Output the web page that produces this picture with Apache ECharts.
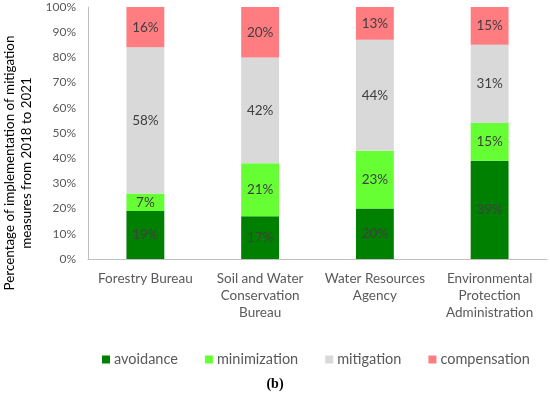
<!DOCTYPE html>
<html>
<head>
<meta charset="utf-8">
<script src="https://cdn.jsdelivr.net/npm/echarts@6/dist/echarts.min.js"></script>
<style>
  html, body { margin: 0; padding: 0; background: #fff; }
  #chart { width: 550px; height: 400px; }
</style>
</head>
<body>
<div id="chart"></div>
<script>
// data
let agencies = ['Forestry Bureau', 'Soil and Water\nConservation\nBureau', 'Water Resources\nAgency', 'Environmental\nProtection\nAdministration'];
let avoidance = [19, 17, 20, 39];
let minimization = [7, 21, 23, 15];
let mitigation = [58, 42, 44, 31];
let compensation = [16, 20, 13, 15];
let seriesNames = ['avoidance', 'minimization', 'mitigation', 'compensation'];
let seriesColors = ['#008000', '#66ff33', '#d9d9d9', '#ff7c80'];

var myChart = echarts.init(document.getElementById('chart'));

function makeSeries(name, data, color) {
    return {
        name: name,
        type: 'bar',
        stack: 'total',
        barWidth: '33%',
        data: data,
        itemStyle: { color: color },
        label: {
            show: true,
            formatter: '{c}%',
            color: '#404040',
            fontSize: 13.5,
            fontFamily: 'Lato'
        }
    };
}

var option = {
    animation: false,
    textStyle: { fontFamily: 'Lato' },
    grid: {
        left: 88,
        right: 3,
        top: 7,
        bottom: 141
    },
    legend: {
        top: 347,
        left: 97,
        itemWidth: 8,
        itemHeight: 8,
        itemGap: 27,
        icon: 'rect',
        textStyle: { fontSize: 14.5, color: '#595959', fontFamily: 'Lato', padding: [0, 0, 0, -1] },
        data: seriesNames
    },
    xAxis: {
        type: 'category',
        data: agencies,
        axisLine: { lineStyle: { color: '#bfbfbf', width: 1 } },
        axisTick: { show: false },
        axisLabel: {
            interval: 0,
            color: '#595959',
            fontSize: 13.5,
            lineHeight: 17,
            margin: 11
        }
    },
    yAxis: {
        type: 'value',
        min: 0,
        max: 100,
        interval: 10,
        axisLine: { show: true, lineStyle: { color: '#bfbfbf', width: 1 } },
        axisTick: { show: false },
        splitLine: { show: false },
        axisLabel: {
            formatter: '{value}%',
            color: '#595959',
            fontSize: 12,
            margin: 12
        }
    },
    graphic: [
        {
            type: 'text',
            x: 18,
            y: 163,
            rotation: Math.PI / 2,
            style: {
                text: 'Percentage of implementation of mitigation\nmeasures from 2018 to 2021',
                fill: '#000',
                font: '13.4px Lato',
                align: 'center',
                verticalAlign: 'middle',
                lineHeight: 17
            }
        },
        {
            type: 'text',
            x: 275,
            y: 384,
            style: {
                text: '(b)',
                fill: '#000',
                font: 'bold 14px "Liberation Serif"',
                align: 'center',
                verticalAlign: 'middle'
            }
        }
    ],
    series: [
        makeSeries(seriesNames[0], avoidance, seriesColors[0]),
        makeSeries(seriesNames[1], minimization, seriesColors[1]),
        makeSeries(seriesNames[2], mitigation, seriesColors[2]),
        makeSeries(seriesNames[3], compensation, seriesColors[3])
    ]
};

myChart.setOption(option);
</script>
</body>
</html>
